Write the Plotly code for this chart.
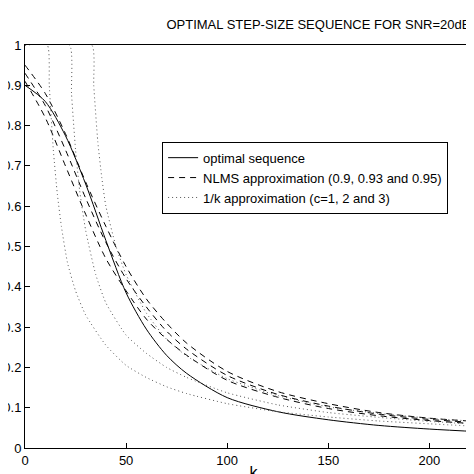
import plotly.graph_objects as go

# optimal step-size sequence
K_OPT = [0, 10, 20, 30, 40, 50, 60, 70, 80, 100, 125, 150, 175, 200, 226]
MU_OPT = [0.90, 0.86, 0.775, 0.655, 0.515, 0.385, 0.295, 0.23, 0.185, 0.125, 0.09, 0.07, 0.056, 0.047, 0.04]

# NLMS approximations (0.9, 0.93, 0.95)
K_NLMS = [0, 10, 20, 30, 40, 50, 60, 70, 80, 100, 125, 150, 175, 200, 226]
MU_NLMS_095 = [0.95, 0.88, 0.78, 0.66, 0.55, 0.45, 0.37, 0.31, 0.26, 0.19, 0.14, 0.11, 0.088, 0.074, 0.065]
MU_NLMS_093 = [0.93, 0.85, 0.74, 0.62, 0.51, 0.42, 0.35, 0.29, 0.245, 0.18, 0.133, 0.104, 0.084, 0.071, 0.062]
MU_NLMS_090 = [0.91, 0.82, 0.70, 0.58, 0.47, 0.39, 0.32, 0.27, 0.23, 0.168, 0.126, 0.098, 0.08, 0.068, 0.059]

# 1/k approximations (c=1, 2, 3)
K_INV1 = [0, 11, 12, 14, 16, 18, 21, 25, 30, 40, 50, 60, 70, 80, 100, 125, 150, 175, 200, 226]
MU_INV1 = [1, 1, 0.9, 0.74, 0.63, 0.55, 0.46, 0.39, 0.33, 0.255, 0.205, 0.175, 0.152, 0.135, 0.11, 0.09, 0.077, 0.067, 0.06, 0.053]
K_INV2 = [0, 22, 23, 25, 27, 30, 35, 40, 50, 60, 70, 80, 100, 125, 150, 175, 200, 226]
MU_INV2 = [1, 1, 0.88, 0.74, 0.64, 0.54, 0.43, 0.36, 0.28, 0.235, 0.2, 0.175, 0.137, 0.107, 0.088, 0.076, 0.066, 0.058]
K_INV3 = [0, 33, 34, 36, 38, 40, 45, 50, 60, 70, 80, 100, 125, 150, 175, 200, 226]
MU_INV3 = [1, 1, 0.9, 0.76, 0.67, 0.6, 0.5, 0.43, 0.335, 0.27, 0.228, 0.172, 0.13, 0.102, 0.086, 0.074, 0.065]

FONT = "Liberation Sans, Arial, sans-serif"

fig = go.Figure()
fig.add_trace(go.Scatter(x=K_OPT, y=MU_OPT, mode="lines", name="optimal sequence",
                         line=dict(color="black", width=1, shape="spline", smoothing=0.8)))
for i, mu in enumerate([MU_NLMS_095, MU_NLMS_093, MU_NLMS_090]):
    fig.add_trace(go.Scatter(x=K_NLMS, y=mu, mode="lines",
                             name="NLMS approximation (0.9, 0.93 and 0.95)", showlegend=(i == 0),
                             line=dict(color="black", width=1, dash="6px,5px", shape="spline", smoothing=0.8)))
for i, (k, mu) in enumerate([(K_INV1, MU_INV1), (K_INV2, MU_INV2), (K_INV3, MU_INV3)]):
    fig.add_trace(go.Scatter(x=k, y=mu, mode="lines",
                             name="1/k approximation (c=1, 2 and 3)", showlegend=(i == 0),
                             line=dict(color="#555555", width=1, dash="1px,3px", shape="spline", smoothing=0.5)))

fig.update_layout(
    width=474,
    height=474,
    plot_bgcolor="white",
    paper_bgcolor="white",
    font=dict(family=FONT, size=13, color="black"),
    margin=dict(l=17, r=0, t=37, b=34),
    title=dict(text="OPTIMAL STEP-SIZE SEQUENCE FOR SNR=20dB", x=0.655, xanchor="center",
               y=0.965, yanchor="middle", font=dict(size=13)),
    legend=dict(x=0.3, y=0.76, xanchor="left", yanchor="top", bordercolor="black", borderwidth=1,
                bgcolor="white", font=dict(size=13), tracegroupgap=0, itemwidth=30),
    xaxis=dict(title=dict(text="k", standoff=0), range=[0, 226], tickvals=[0, 50, 100, 150, 200],
               showgrid=False, zeroline=False, showline=True, linecolor="black", mirror=True,
               ticks="inside", ticklen=5, tickcolor="black", automargin=False),
    yaxis=dict(range=[0, 1], tickvals=[0, 0.1, 0.2, 0.3, 0.4, 0.5, 0.6, 0.7, 0.8, 0.9, 1],
               ticktext=["0", "0.1", "0.2", "0.3", "0.4", "0.5", "0.6", "0.7", "0.8", "0.9", "1"],
               showgrid=False, zeroline=False, showline=True, linecolor="black",
               ticks="inside", ticklen=5, tickcolor="black", automargin=False),
)
fig.write_html("out.html")
